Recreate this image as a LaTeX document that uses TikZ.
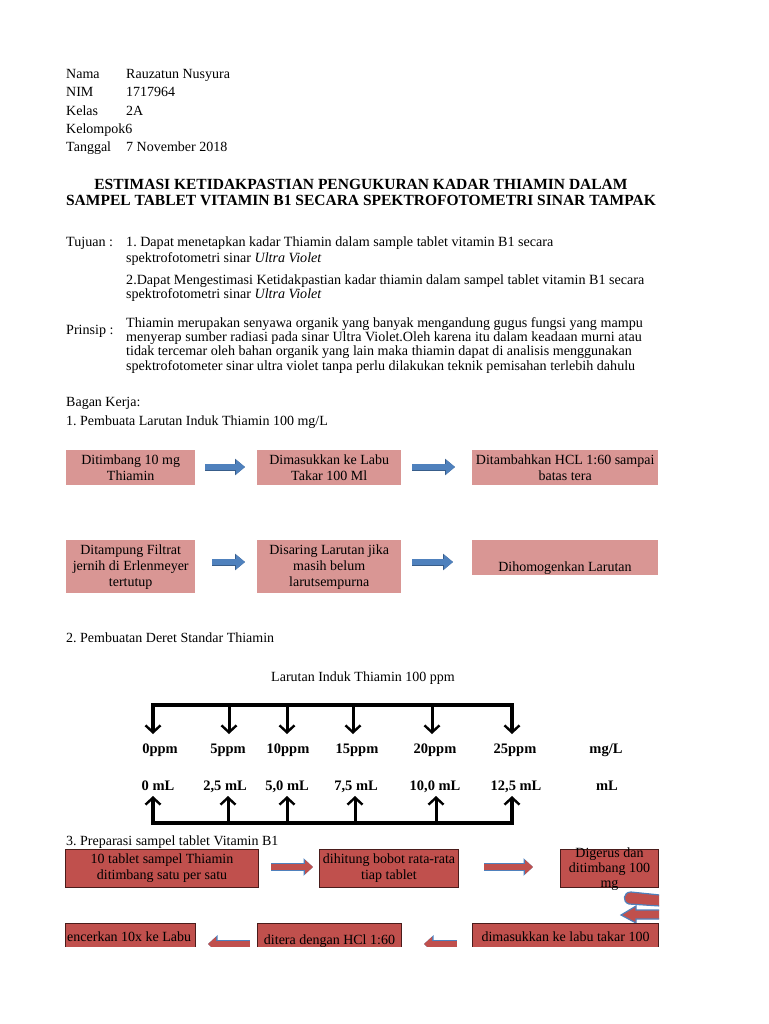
\documentclass[tikz,border=0pt]{standalone}
\usepackage{fontspec}
\setmainfont{Liberation Serif}
\usetikzlibrary{arrows.meta,calc}
\definecolor{pinkbox}{HTML}{D99694}
\definecolor{redbox}{HTML}{C0504D}
\definecolor{redline}{HTML}{4A1C1B}
\definecolor{arrblue}{HTML}{4F81BD}
\definecolor{arrbluedk}{HTML}{385D8A}
\frenchspacing
\begin{document}
\frenchspacing
\begin{tikzpicture}[x=1pt,y=-1pt,
  txt/.style={anchor=base west, inner sep=0pt, font=\fontsize{14}{16}\selectfont},
  smalltxt/.style={anchor=base west, inner sep=0pt, font=\fontsize{14.1}{14}\selectfont},
  ttl/.style={anchor=base, inner sep=0pt, font=\fontsize{15.5}{17}\selectfont\bfseries},
  lbl/.style={anchor=base, inner sep=0pt, font=\fontsize{14.5}{16}\selectfont\bfseries},
  pinkb/.style={anchor=north west, fill=pinkbox, draw=none, inner sep=0pt},
  redb/.style={anchor=north west, fill=redbox, draw=redline, line width=1pt, inner sep=0pt},
  boxtxt/.style={align=center, inner sep=0pt, font=\fontsize{14}{16}\selectfont},
  bluearr/.style={line width=5.5pt, draw=arrblue, -{Triangle[length=9pt,width=14pt]},
     preaction={draw=arrbluedk, line width=7pt, -{Triangle[length=10pt,width=16pt]}}},
  redarr/.style={line width=6pt, draw=redbox, -{Triangle[length=8pt,width=14pt]},
     preaction={draw=arrblue, line width=8pt, -{Triangle[length=9.5pt,width=17pt]}}},
  bar/.style={line width=4pt, line join=miter},
  stem/.style={line width=3pt},
  vtip/.style={-{Straight Barb[length=7pt,width=15pt,line width=2.4pt]}},
]
\useasboundingbox (0,0) rectangle (768,1024);

% header
\node[txt] (nama) at (66,79) {Nama};
\node[txt] (namav) at (126,79) {Rauzatun Nusyura};
\node[txt] (nim) at (66,97) {NIM};
\node[txt] (nimv) at (126,97) {1717964};
\node[txt] (kelas) at (66,116) {Kelas};
\node[txt] (kelasv) at (126,116) {2A};
\node[txt] (kel) at (66,134) {Kelompok6};
\node[txt] (tgl) at (66,152) {Tanggal};
\node[txt] (tglv) at (126,152) {7 November 2018};

% title
\node[ttl] (t1) at (361,190) {ESTIMASI KETIDAKPASTIAN PENGUKURAN KADAR THIAMIN DALAM};
\node[ttl] (t2) at (361,206) {SAMPEL TABLET VITAMIN B1 SECARA SPEKTROFOTOMETRI SINAR TAMPAK};

% tujuan
\node[smalltxt] (tuj) at (66,246) {Tujuan :};
\node[smalltxt] (tj1) at (126,246) {1. Dapat menetapkan kadar Thiamin dalam sample tablet vitamin B1 secara};
\node[smalltxt] (tj2) at (126,262) {spektrofotometri sinar \textit{Ultra Violet}};
\node[smalltxt] (tj3) at (126,284) {2.Dapat Mengestimasi Ketidakpastian kadar thiamin dalam sampel tablet vitamin B1 secara};
\node[smalltxt] (tj4) at (126,298) {spektrofotometri sinar \textit{Ultra Violet}};

% prinsip
\node[smalltxt] (pr) at (66,334) {Prinsip :};
\node[smalltxt] (pr1) at (126,327) {Thiamin merupakan senyawa organik yang banyak mengandung gugus fungsi yang mampu};
\node[smalltxt] (pr2) at (126,341) {menyerap sumber radiasi pada sinar Ultra Violet.Oleh karena itu dalam keadaan murni atau};
\node[smalltxt] (pr3) at (126,355) {tidak tercemar oleh bahan organik yang lain maka thiamin dapat di analisis menggunakan};
\node[smalltxt] (pr4) at (126,370) {spektrofotometer sinar ultra violet tanpa perlu dilakukan teknik pemisahan terlebih dahulu};

\node[txt] (bag) at (66,406) {Bagan Kerja:};
\node[txt] (s1) at (66,425) {1. Pembuata Larutan Induk Thiamin 100 mg/L};

% section 1 boxes
\node[pinkb, minimum width=129, minimum height=35] (b1) at (66,450) {};
\node[pinkb, minimum width=144, minimum height=35] (b2) at (257,450) {};
\node[pinkb, minimum width=186, minimum height=35] (b3) at (472,450) {};
\node[boxtxt] (b1t) at (b1.center) {Ditimbang 10 mg\\Thiamin};
\node[boxtxt] (b2t) at (b2.center) {Dimasukkan ke Labu\\Takar 100 Ml};
\node[boxtxt] (b3t) at (b3.center) {Ditambahkan HCL 1:60 sampai\\batas tera};

\node[pinkb, minimum width=129, minimum height=53] (b4) at (66,540) {};
\node[pinkb, minimum width=144, minimum height=53] (b5) at (257,540) {};
\node[pinkb, minimum width=186, minimum height=35] (b6) at (472,540) {};
\node[boxtxt] (b4t) at (b4.center) {Ditampung Filtrat\\jernih di Erlenmeyer\\tertutup};
\node[boxtxt] (b5t) at (b5.center) {Disaring Larutan jika\\masih belum\\larutsempurna};
\node[boxtxt, anchor=base] (b6t) at (565,571) {Dihomogenkan Larutan};

\coordinate (r1y) at (0,467);
\coordinate (r2y) at (0,562);
\draw[bluearr, shorten <=10pt, shorten >=12pt] (b1.east |- r1y) -- (b2.west |- r1y);
\draw[bluearr, shorten <=11pt, shorten >=17pt] (b2.east |- r1y) -- (b3.west |- r1y);
\draw[bluearr, shorten <=17pt, shorten >=12pt] (b4.east |- r2y) -- (b5.west |- r2y);
\draw[bluearr, shorten <=11pt, shorten >=19pt] (b5.east |- r2y) -- (b6.west |- r2y);

% section 2
\node[txt] (s2) at (66,642) {2. Pembuatan Deret Standar Thiamin};
\node[txt, anchor=base] (lar) at (363,681) {Larutan Induk Thiamin 100 ppm};

\foreach \i/\x in {0/153,1/229,2/287,3/353,4/432,5/512}{
  \coordinate (t\i) at (\x,705);
  \coordinate (td\i) at (\x,734);
}
\foreach \i/\x in {0/153,1/228,2/287,3/355,4/436,5/512}{
  \coordinate (u\i) at (\x,823);
  \coordinate (ud\i) at (\x,796);
}
\draw[bar, {Straight Barb[length=7pt,width=15pt,line width=2.4pt]}-{Straight Barb[length=7pt,width=15pt,line width=2.4pt]}] (td0) -- (t0) -- (t5) -- (td5);
\foreach \i in {1,2,3,4}{ \draw[stem, vtip] (t\i) -- (td\i); }
\draw[bar, {Straight Barb[length=7pt,width=15pt,line width=2.4pt]}-{Straight Barb[length=7pt,width=15pt,line width=2.4pt]}] (ud0) -- (u0) -- (u5) -- (ud5);
\foreach \i in {1,2,3,4}{ \draw[stem, vtip] (u\i) -- (ud\i); }

\node[lbl] (p0) at (160,753) {0ppm};
\node[lbl] (p1) at (228,753) {5ppm};
\node[lbl] (p2) at (288,753) {10ppm};
\node[lbl] (p3) at (357,753) {15ppm};
\node[lbl] (p4) at (435,753) {20ppm};
\node[lbl] (p5) at (515,753) {25ppm};
\node[lbl] (p6) at (606,753) {mg/L};
\node[lbl] (m0) at (158,790) {0 mL};
\node[lbl] (m1) at (225,790) {2,5 mL};
\node[lbl] (m2) at (287,790) {5,0 mL};
\node[lbl] (m3) at (356,790) {7,5 mL};
\node[lbl] (m4) at (435,790) {10,0 mL};
\node[lbl] (m5) at (516,790) {12,5 mL};
\node[lbl] (m6) at (607,790) {mL};

% section 3
\node[txt] (s3) at (66,845) {3. Preparasi sampel tablet Vitamin B1};
\node[redb, minimum width=193, minimum height=38] (c1) at (65,849) {};
\node[redb, minimum width=139, minimum height=38] (c2) at (319,849) {};
\node[redb, minimum width=98, minimum height=38] (c3) at (560,849) {};
\node[boxtxt] (c1t) at (c1.center) {10 tablet sampel Thiamin\\ditimbang satu per satu};
\node[boxtxt] (c2t) at (c2.center) {dihitung bobot rata-rata\\tiap tablet};
\node[boxtxt, font=\fontsize{14}{15}\selectfont] (c3t) at ([yshift=-1pt]c3.center) {Digerus dan\\ditimbang 100\\mg};
\coordinate (r3y) at (0,867);
\draw[redarr, shorten <=12pt, shorten >=6pt] (c1.east |- r3y) -- (c2.west |- r3y);
\draw[redarr, shorten <=25pt, shorten >=27pt] (c2.east |- r3y) -- (c3.west |- r3y);

\begin{scope}
\clip (0,0) rectangle (659,946);
% partial U-turn arrow at right
\filldraw[fill=redbox, draw=arrblue, line width=1.2pt]
  (660,895) -- (631,892) .. controls (623,892) and (622,902) .. (629,904) -- (660,906) -- cycle;
\filldraw[fill=redbox, draw=arrblue, line width=1.2pt]
  (660,910) -- (636,910) -- (636,906) -- (621,915) -- (636,923) -- (636,919) -- (660,919) -- cycle;
% row 4
\node[redb, minimum width=186, minimum height=26] (c4) at (472,923) {};
\node[redb, minimum width=144, minimum height=36] (c5) at (257,923) {};
\node[redb, minimum width=130, minimum height=26] (c6) at (65,923) {};
\node[boxtxt] (c4t) at (c4.center) {dimasukkan ke labu takar 100};
\node[boxtxt] (c5t) at (c5.center) {ditera dengan HCl 1:60};
\node[boxtxt, anchor=west] (c6t) at (c6.west) {\hspace{2pt}encerkan 10x ke Labu};
\coordinate (r4y) at (0,944);
\draw[redarr, shorten <=15pt, shorten >=22pt] (c4.west |- r4y) -- (c5.east |- r4y);
\draw[redarr, shorten <=7pt, shorten >=12pt] (c5.west |- r4y) -- (c6.east |- r4y);
\end{scope}
\end{tikzpicture}
\end{document}
